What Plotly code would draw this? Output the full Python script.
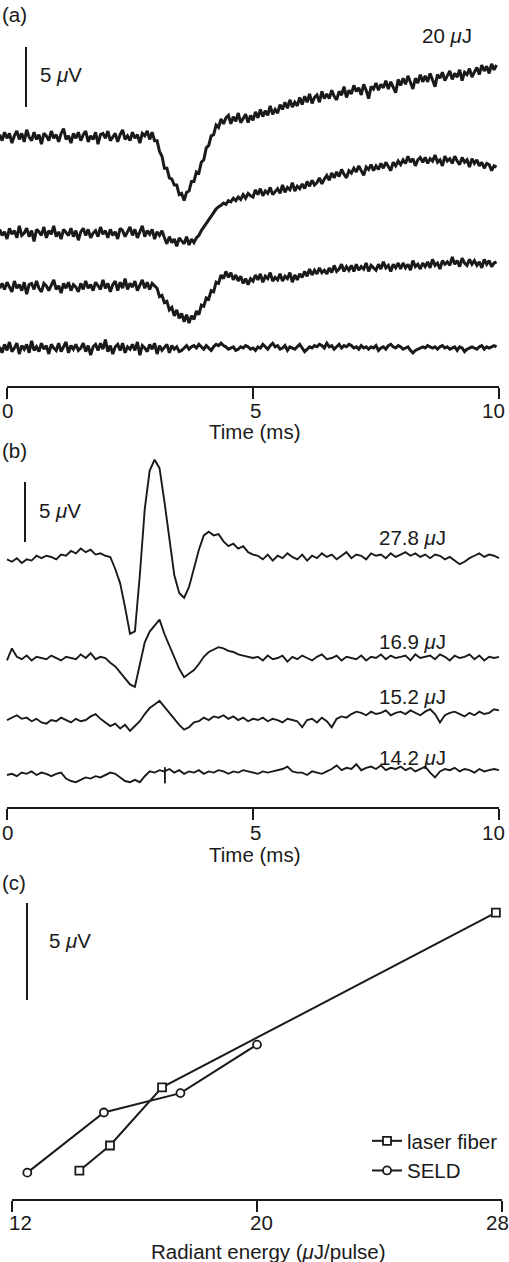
import numpy as np
import plotly.graph_objects as go

W, H = 509, 1262
FONT = "Liberation Sans, Arial, Helvetica, sans-serif"
FS = 20.5
INK = "#1a1a1a"

# ---------------- Panel (a): four sweeps (µV, relative to each sweep's baseline) ----------------
A_T_START, A_T_END = -0.15, 9.95  # ms
a1_uv = [
    0.2, -0.3, 0.4, -0.1, 0.3, -0.5, 0.1, 0.5, -0.2, 0.3,
    -0.4, 0.6, 0.0, -0.3, 0.4, -0.2, 0.2, -0.6, 0.3, 0.1,
    -0.3, 0.5, -0.1, 0.2, -0.4, 0.3, 0.7, -0.2, 0.1, -0.5,
    0.3, -0.1, 0.4, -0.3, 0.2, 0.5, -0.4, 0.1, -0.2, 0.4,
    -0.6, 0.2, 0.3, -0.1, 0.5, -0.3, 0.0, 0.3, -0.4, 0.2,
    0.6, -0.2, 0.1, -0.3, 0.4, -0.1, 0.2, -0.5, 0.3, 0.1,
    0.5, -0.2, 0.4, -0.3,
    -0.3, -1.2, -1.6, -2.6, -2.6, -3.4, -3.5, -4.0, -4.0, -4.8,
    -4.7, -5.3, -4.6, -4.5, -3.7, -3.7, -2.9, -3.0, -2.1, -1.9,
    -0.9, -0.7, 0.1, 0.2, 1.0, 0.8, 1.5, 1.1, 1.6,
    1.8, 1.1, 1.7, 1.3, 2.0, 1.2, 1.5, 1.9, 1.2, 1.8,
    1.4, 2.1, 1.6, 2.3, 1.7, 2.2, 1.8, 2.6, 1.9, 2.3,
    2.0, 2.7, 2.3, 2.9, 2.4, 3.1, 2.5, 2.9, 2.6, 3.3,
    2.7, 3.4, 2.9, 3.6, 2.8, 3.3, 3.5, 2.9, 3.8, 3.2,
    3.6, 3.2, 3.9, 3.4, 3.1, 3.8, 3.5, 4.2, 3.3, 3.9,
    3.6, 4.3, 3.8, 4.1, 3.5, 4.4, 3.9, 3.2, 4.2, 4.0,
    4.5, 3.9, 4.4, 4.1, 4.7, 4.0, 4.6, 4.2, 3.7, 4.8,
    4.3, 4.9, 4.4, 5.1, 4.6, 4.0, 4.9, 4.5, 5.2, 4.6,
    5.1, 4.6, 5.3, 4.8, 4.2, 5.2, 4.9, 5.4, 4.7, 5.1,
    5.5, 4.8, 5.3, 5.0, 5.6, 4.7, 5.4, 5.2, 5.7, 5.0,
    5.4, 5.8, 5.2, 6.0, 5.5, 5.9, 5.3, 6.1, 5.6, 6.0,
]
a2_uv = [
    0.3, -0.2, 0.1, -0.5, 0.4, -0.1, 0.2, -0.4, 0.6, -0.2,
    0.0, 0.4, -0.3, 0.2, -0.7, 0.3, 0.1, -0.2, 0.5, -0.4,
    0.2, -0.1, 0.6, -0.3, 0.1, -0.5, 0.3, 0.0, -0.2, 0.4,
    -0.3, 0.2, -0.6, 0.1, 0.4, -0.2, 0.3, -0.4, 0.0, 0.2,
    -0.3, 0.5, -0.1, 0.2, -0.4, 0.3, -0.2, 0.1, -0.5, 0.4,
    0.2, -0.3, 0.1, 0.5, -0.2, 0.3, -0.4, 0.1, 0.6, -0.3,
    0.2, -0.1, 0.3, -0.5, 0.1, -0.2, 0.2,
    -0.4, -0.9, -0.3, -0.8, -0.5, -1.1, -0.4, -0.7, -0.9, -0.3, -1.0, -0.5, -0.8, -0.4,
    -0.2, 0.2, 0.5, 0.8, 1.2, 1.4, 1.8, 2.0, 2.2, 2.3,
    2.5, 2.4, 2.7, 2.6, 2.9, 2.7, 3.0, 2.8, 3.2, 2.9,
    3.3, 3.1,
    3.0, 3.6, 3.2, 3.7, 3.1, 3.5, 3.3, 3.8, 3.2, 3.5,
    3.7, 3.3, 4.0, 3.4, 3.8, 3.6, 4.2, 3.5, 3.9, 3.7,
    4.1, 3.7, 4.3, 3.9, 4.4, 4.0, 4.2, 4.6, 4.1, 4.5,
    4.8, 4.4, 5.0, 4.6, 5.1, 4.7, 5.3, 4.9, 4.6, 5.2,
    5.0, 5.4, 5.1, 5.6, 5.2, 4.8, 5.5, 5.3, 5.7, 5.2,
    5.6, 5.3, 5.8, 5.4, 5.9, 5.5, 5.2, 5.9, 5.6, 6.0,
    5.7, 6.1, 5.8, 6.4, 5.9, 6.2, 5.6, 6.1, 6.3, 5.9,
    6.3, 5.8, 6.2, 6.0, 6.5, 5.9, 6.1, 5.6, 6.4, 6.0,
    6.2, 5.8, 6.4, 6.0, 5.7, 6.3, 5.9, 6.1, 5.5, 6.2,
    5.8, 6.1, 5.6, 5.9, 5.4, 5.8, 5.7, 5.2, 5.6, 5.5,
]
a3_uv = [
    -0.1, 0.3, -0.2, 0.4, 0.0, -0.4, 0.5, -0.1, 0.2, -0.3,
    0.4, -0.6, 0.2, 0.3, -0.2, 0.5, -0.1, -0.4, 0.3, 0.1,
    -0.3, 0.2, 0.6, -0.2, 0.1, -0.5, 0.3, -0.1, 0.4, -0.3,
    0.2, 0.0, -0.4, 0.3, -0.2, 0.5, -0.1, 0.2, -0.3, 0.4,
    0.1, -0.2, 0.6, -0.1, 0.3, -0.4, 0.2, 0.5, -0.3, 0.4,
    -0.1, 0.7, -0.2, 0.3, 0.0, 0.5, -0.3, 0.2, 0.6, -0.1,
    0.4, -0.2, 0.3, 0.1,
    -0.1, -0.8, -0.7, -1.3, -1.2, -1.9, -1.7, -2.4, -1.9, -2.6,
    -2.2, -2.9, -2.3, -3.0, -2.4, -2.7, -2.0, -2.3, -1.5, -1.6,
    -0.9, -1.0, -0.3, -0.4, 0.4, 0.3, 1.0, 0.7, 1.3, 0.8,
    1.2, 0.6, 1.0, 0.5, 0.9, 0.3, 0.7, 0.2, 0.7,
    0.5, 1.0, 0.6, 1.1, 0.4, 0.9, 0.7, 1.2, 0.5, 0.8,
    0.6, 1.1, 0.5, 0.9, 0.7, 1.2, 0.4, 1.0, 0.6, 1.1,
    0.8, 1.3, 0.9, 1.5, 1.0, 1.4, 1.1, 1.6, 1.2, 1.4,
    1.1, 1.6, 1.2, 1.8, 1.3, 1.5, 1.9, 1.3, 1.7, 1.4,
    1.8, 1.3, 1.9, 1.4, 1.7, 1.5, 2.0, 1.3, 1.8, 1.6,
    1.4, 1.9, 1.5, 2.1, 1.6, 1.8, 1.3, 1.9, 1.6, 2.0,
    1.5, 2.0, 1.6, 1.9, 1.4, 2.2, 1.7, 1.9, 1.5, 2.0,
    1.7, 2.1, 1.6, 2.3, 1.8, 2.0, 1.5, 2.2, 1.9, 2.1,
    1.8, 2.5, 1.9, 2.2, 1.7, 2.4, 2.0, 1.8, 2.3, 1.9,
    2.2, 1.8, 2.1, 1.6, 2.3, 1.9, 2.2, 1.7, 2.0, 2.1,
]
a4_uv = [
    0.1, -0.4, 0.3, -0.2, 0.5, -0.3, 0.0, 0.4, -0.5, 0.2,
    -0.1, 0.3, -0.4, 0.6, -0.2, 0.1, -0.3, 0.4, -0.1, 0.2,
    -0.5, 0.3, 0.0, -0.2, 0.4, -0.3, 0.1, 0.5, -0.4, 0.2,
    -0.1, 0.3, -0.2, 0.0, 0.4, -0.3, 0.2, -0.6, 0.1, 0.3,
    -0.2, 0.4, -0.1, 0.7, -0.3, 0.2, -0.5, 0.1, 0.3, -0.2,
    0.4, -0.4, 0.1, -0.1, 0.3, -0.2, 0.5, -0.6, 0.2, 0.0,
    -0.3, 0.3, -0.1, 0.4, -0.5, 0.2, -0.2, 0.1, 0.3, -0.4,
    0.2, -0.1, 0.1, -0.3, -0.2, 0.0, 0.2, -0.1, 0.1, 0.2,
    0.0, 0.3, 0.1, -0.1, 0.2, 0.0, -0.2, 0.1, 0.3, 0.2,
    0.4, 0.2, 0.1, -0.1, 0.0, 0.1, -0.2, -0.1, 0.1, 0.0,
    0.2, 0.1, -0.1, 0.0, -0.2, 0.1, 0.0, 0.3, 0.1, -0.1,
    0.2, 0.4, 0.1, 0.2, -0.1, 0.0, 0.2, -0.2, 0.1, 0.0,
    -0.1, 0.1, 0.3, 0.0, -0.3, -0.1, 0.1, 0.0, 0.2, 0.1,
    0.3, 0.2, 0.0, 0.4, 0.1, 0.2, -0.1, 0.1, 0.3, 0.0,
    0.2, 0.1, 0.3, 0.2, 0.0, 0.1, -0.1, 0.2, 0.0, 0.1,
    -0.1, 0.1, 0.0, 0.2, -0.2, 0.0, 0.1, -0.1, 0.2, 0.3,
    0.1, 0.0, 0.2, 0.1, -0.1, 0.0, 0.1, -0.2, -0.4, -0.2,
    -0.1, 0.0, 0.1, 0.0, 0.2, 0.1, 0.0, 0.1, -0.1, 0.1,
    0.2, 0.0, 0.1, -0.1, 0.0, 0.1, -0.2, 0.1, 0.0, -0.3,
    -0.1, 0.0, 0.1, 0.0, -0.1, 0.1, 0.2, -0.1, 0.1, 0.0,
    0.1, 0.2, 0.1,
]
A_OFFSETS = [20.83, 12.83, 8.33, 3.25]   # µV, vertical stacking of sweeps
A_LABEL = "20 <i>μ</i>J"

# ---------------- Panel (b): four sweeps at different energies ----------------
B_T_START, B_T_END = 0.0, 10.0  # ms
b1_uv = [
    -0.2, -0.4, -0.1, -0.5, -0.2, -0.3, 0.1, -0.1, 0.1, 0.0,
    -0.2, 0.2, 0.1, 0.5, 0.3, 0.7, 0.4, 0.6, 0.2, 0.3,
    0.1, 0.0, -1.0, -2.2, -4.2, -6.4, -6.2, -1.5, 4.0, 7.2,
    8.1, 7.4, 4.6, 1.6, -1.5, -3.0, -3.4, -2.5, -1.0, 0.6,
    1.8, 2.1, 1.8, 1.9, 1.3, 0.9, 1.1, 0.7, 0.9, 0.4,
    0.2,
    0.1, -0.2, 0.2, -0.3, 0.1, -0.1, 0.3, 0.0, -0.2, 0.2,
    -0.3, 0.1, -0.1, 0.3, 0.0, 0.2, -0.2, 0.1, 0.4, -0.1,
    0.2, 0.1, -0.2, 0.3, 0.1, 0.2, -0.1, 0.3, 0.0, 0.2,
    0.4, 0.1, 0.3, 0.0, 0.2, -0.1, 0.2, 0.1, -0.2, 0.0,
    -0.3, -0.6, -0.4, -0.1, 0.1, 0.3, 0.0, 0.2, 0.1, -0.1,
]
b2_uv = [
    -0.2, 0.8, 0.1, -0.1, 0.2, -0.2, 0.1, 0.0, -0.1, 0.2,
    0.0, -0.2, 0.1, 0.0, -0.1, 0.3, 0.0, 0.4, -0.1, 0.1,
    0.0, -0.4, -0.7, -1.2, -1.7, -2.2, -2.4, -0.6, 1.3, 2.2,
    2.7, 3.2, 2.0, 1.0, 0.1, -0.9, -1.6, -1.3, -1.0, -0.5,
    0.1, 0.5, 0.7, 0.9, 0.8, 0.6, 0.5, 0.3, 0.2, 0.1,
    0.0,
    0.1, -0.2, 0.2, -0.1, 0.0, 0.2, -0.3, 0.1, -0.1, 0.2,
    0.0, -0.2, 0.1, 0.3, -0.1, 0.0, 0.2, -0.2, 0.1, 0.0,
    -0.1, 0.2, -0.2, 0.1, 0.0, 0.3, -0.1, 0.2, 0.0, 0.1,
    0.2, -0.2, 0.3, 0.0, 0.1, 0.2, -0.1, 0.3, 0.1, -0.2,
    0.2, 0.0, 0.1, 0.3, -0.1, 0.2, -0.2, 0.1, 0.0, 0.1,
]
b3_uv = [
    0.0, 0.2, 0.4, 0.1, 0.2, -0.1, 0.1, -0.2, -0.3, 0.0,
    -0.1, 0.2, 0.0, -0.2, 0.1, -0.1, 0.0, 0.3, 0.5, 0.1,
    -0.2, -0.5, -0.3, -0.7, -0.4, -0.9, -0.5, -0.1, 0.5, 1.0,
    1.3, 1.6, 1.1, 0.6, 0.1, -0.4, -0.8, -0.6, -0.2, -0.1,
    0.2, 0.0, 0.3, 0.2, 0.4, 0.1, 0.3, 0.0, 0.2, -0.1,
    0.1,
    0.0, 0.2, -0.1, 0.1, 0.0, -0.2, 0.1, 0.0, -0.1, -0.6,
    0.0, 0.1, -0.2, 0.2, -0.1, -0.6, 0.1, 0.3, 0.2, 0.5,
    0.7, 0.6, 0.4, 0.7, 0.5, 0.6, 0.8, 0.4, 0.6, 0.7,
    0.5, 0.8, 0.6, 0.4, 0.7, 0.9, 0.5, -0.2, 0.4, 0.6,
    0.7, 0.5, 0.3, 0.6, 0.4, 0.7, 0.5, 0.6, 0.9, 0.8,
]
b4_uv = [
    0.0, 0.1, -0.1, 0.2, 0.1, 0.3, 0.0, 0.2, 0.1, -0.1,
    0.1, 0.2, -0.3, -0.5, -0.6, -0.4, -0.2, -0.3, -0.1, -0.2,
    0.0, 0.2, 0.1, -0.2, -0.5, -0.6, -0.4, -0.6, -0.1, 0.3,
    0.2, 0.4, 0.3, 0.5, 0.2, 0.4, 0.1, 0.3, 0.2, 0.4,
    0.1, 0.3, 0.2, 0.4, 0.3, 0.1, 0.3, 0.2, 0.4, 0.3,
    0.2, 0.1, 0.3, 0.2, 0.3, 0.4, 0.5, 0.7, 0.3, 0.2,
    0.2, 0.0, 0.3, 0.2, 0.1, 0.3, 0.5, 0.8, 0.4, 0.6,
    0.5, 0.9, 0.4, 0.6, 0.7, 0.5, 0.8, 0.4, 0.6, 0.5,
    0.7, 0.4, 0.6, 0.3, 0.5, 0.7, 0.2, -0.2, 0.3, 0.5,
    0.4, 0.6, 0.3, 0.5, 0.4, 0.2, 0.5, 0.3, 0.4, 0.5,
    0.4,
]
b4_artifact_t = [3.21, 3.21]      # ms, stimulus artifact tick on lowest sweep
b4_artifact_uv = [0.65, -0.7]
B_OFFSETS = [20.92, 12.5, 7.33, 2.75]
B_LABELS = ["27.8 <i>μ</i>J", "16.9 <i>μ</i>J", "15.2 <i>μ</i>J", "14.2 <i>μ</i>J"]

# ---------------- Panel (c): amplitude vs radiant energy ----------------
laser_energy = [14.2, 15.2, 16.9, 27.8]   # µJ/pulse
laser_amp = [1.2, 2.5, 5.5, 14.5]         # µV
seld_energy = [12.5, 15.0, 17.5, 20.0]
seld_amp = [1.1, 4.2, 5.2, 7.7]

TIME_TICKS = [0, 5, 10]
ENERGY_TICKS = [12, 20, 28]
SCALE_UV = 5


# ---------------- layout helpers (pixel -> paper) ----------------
def px(x):
    return x / W


def py(y):
    return 1 - y / H


fig = go.Figure()

# Panel (a) traces
for vals, off in zip([a1_uv, a2_uv, a3_uv, a4_uv], A_OFFSETS):
    t = np.linspace(A_T_START, A_T_END, len(vals))
    fig.add_trace(go.Scatter(x=t, y=np.array(vals) + off, mode="lines",
                             line=dict(color=INK, width=3.0), xaxis="x", yaxis="y",
                             showlegend=False, hoverinfo="skip"))

# Panel (b) traces
for vals, off in zip([b1_uv, b2_uv, b3_uv, b4_uv], B_OFFSETS):
    t = np.linspace(B_T_START, B_T_END, len(vals))
    fig.add_trace(go.Scatter(x=t, y=np.array(vals) + off, mode="lines",
                             line=dict(color=INK, width=1.9), xaxis="x2", yaxis="y2",
                             showlegend=False, hoverinfo="skip"))
fig.add_trace(go.Scatter(x=b4_artifact_t, y=np.array(b4_artifact_uv) + B_OFFSETS[3],
                         mode="lines", line=dict(color=INK, width=1.9),
                         xaxis="x2", yaxis="y2", showlegend=False, hoverinfo="skip"))

# Panel (c) traces
fig.add_trace(go.Scatter(x=laser_energy, y=laser_amp, mode="lines+markers", name="laser fiber",
                         line=dict(color=INK, width=2),
                         marker=dict(symbol="square", size=8, color="white",
                                     line=dict(color=INK, width=1.8)),
                         xaxis="x3", yaxis="y3", legendgroup="g1", cliponaxis=False))
fig.add_trace(go.Scatter(x=seld_energy, y=seld_amp, mode="lines+markers", name="SELD",
                         line=dict(color=INK, width=2),
                         marker=dict(symbol="circle", size=8, color="white",
                                     line=dict(color=INK, width=1.8)),
                         xaxis="x3", yaxis="y3", legendgroup="g2", cliponaxis=False))

# time axis: 0 ms at 7 px, 10 ms at 499 px
TPX = 49.2
t_range = [-7 / TPX, (W - 7) / TPX]
# energy axis: 12 at 12 px, 28 at 502 px
EPX = (502 - 12) / 16
e_range = [12 - 12 / EPX, 12 + (W - 12) / EPX]

UVPX_AB = 12.0
UVPX_C = 19.4
ya_dom = [py(387), py(30)]
yb_dom = [py(808), py(450)]
yc_dom = [py(1200), py(880)]

xax = dict(showgrid=False, zeroline=False, showline=False, ticks="outside", ticklen=11,
           tickwidth=2, tickcolor=INK, showticklabels=False, fixedrange=True)
fig.update_layout(
    width=W, height=H, margin=dict(l=0, r=0, t=0, b=0),
    paper_bgcolor="white", plot_bgcolor="white",
    font=dict(family=FONT, size=FS, color=INK),
    xaxis=dict(domain=[0, 1], range=t_range, anchor="y", tickvals=TIME_TICKS, **xax),
    yaxis=dict(domain=ya_dom, range=[0, (387 - 30) / UVPX_AB], visible=False),
    xaxis2=dict(domain=[0, 1], range=t_range, anchor="y2", tickvals=TIME_TICKS, **xax),
    yaxis2=dict(domain=yb_dom, range=[0, (808 - 450) / UVPX_AB], visible=False),
    xaxis3=dict(domain=[0, 1], range=e_range, anchor="y3", tickvals=ENERGY_TICKS, **xax),
    yaxis3=dict(domain=yc_dom, range=[(1194 - 1200) / UVPX_C, (1194 - 880) / UVPX_C], visible=False),
    legend=dict(x=px(367), y=py(1121), xanchor="left", yanchor="top",
                font=dict(family=FONT, size=FS, color=INK), bgcolor="rgba(0,0,0,0)",
                tracegroupgap=0, itemwidth=30),
)

shapes = []
# axis brackets
shapes.append(dict(type="line", xref="x", yref="y domain", x0=TIME_TICKS[0], x1=TIME_TICKS[-1],
                   y0=0, y1=0, line=dict(color=INK, width=2)))
shapes.append(dict(type="line", xref="x2", yref="y2 domain", x0=TIME_TICKS[0], x1=TIME_TICKS[-1],
                   y0=0, y1=0, line=dict(color=INK, width=2)))
shapes.append(dict(type="line", xref="x3", yref="y3 domain", x0=ENERGY_TICKS[0], x1=ENERGY_TICKS[-1],
                   y0=0, y1=0, line=dict(color=INK, width=2)))
# scale bars (5 µV)
sa_x = (26 - 7) / TPX
sa_y0 = (387 - 107) / UVPX_AB
shapes.append(dict(type="line", xref="x", yref="y", x0=sa_x, x1=sa_x, y0=sa_y0, y1=sa_y0 + SCALE_UV,
                   line=dict(color=INK, width=2)))
sb_x = (25 - 7) / TPX
sb_y0 = (808 - 542) / UVPX_AB
shapes.append(dict(type="line", xref="x2", yref="y2", x0=sb_x, x1=sb_x, y0=sb_y0, y1=sb_y0 + SCALE_UV,
                   line=dict(color=INK, width=2)))
sc_x = 12 + (27 - 12) / EPX
sc_y0 = (1194 - 1000) / UVPX_C
shapes.append(dict(type="line", xref="x3", yref="y3", x0=sc_x, x1=sc_x, y0=sc_y0, y1=sc_y0 + SCALE_UV,
                   line=dict(color=INK, width=2)))
fig.update_layout(shapes=shapes)

ann = []


def text(s, x, y, xanchor="left", xref="paper", xshift=0):
    ann.append(dict(text=s, x=x, y=y, xref=xref, yref="paper", xanchor=xanchor, yanchor="middle",
                    showarrow=False, xshift=xshift, font=dict(family=FONT, size=FS, color=INK)))


text("(a)", px(0), py(14))
text("(b)", px(0), py(450))
text("(c)", px(0), py(882))
text("5 <i>μ</i>V", px(38), py(75))
text("5 <i>μ</i>V", px(37), py(510))
text("5 <i>μ</i>V", px(47), py(940))
text(A_LABEL, px(447), py(36), xanchor="center")
for lab, yy in zip(B_LABELS, [537, 641, 696, 757]):
    text(lab, px(412), py(yy), xanchor="center")
text("Time (ms)", px(254), py(431), xanchor="center")
text("Time (ms)", px(254), py(854), xanchor="center")
text("Radiant energy (<i>μ</i>J/pulse)", px(268), py(1251), xanchor="center")
# tick labels (placed at the axis tick values)
for v, sh in zip(TIME_TICKS, [0, 2, -6]):
    text(str(v), v, py(410), xanchor="center", xref="x", xshift=sh)
    text(str(v), v, py(832), xanchor="center", xref="x2", xshift=sh)
for v, sh in zip(ENERGY_TICKS, [8, 4, -5]):
    text(str(v), v, py(1222), xanchor="center", xref="x3", xshift=sh)
fig.update_layout(annotations=ann)

fig.write_html("out.html")
